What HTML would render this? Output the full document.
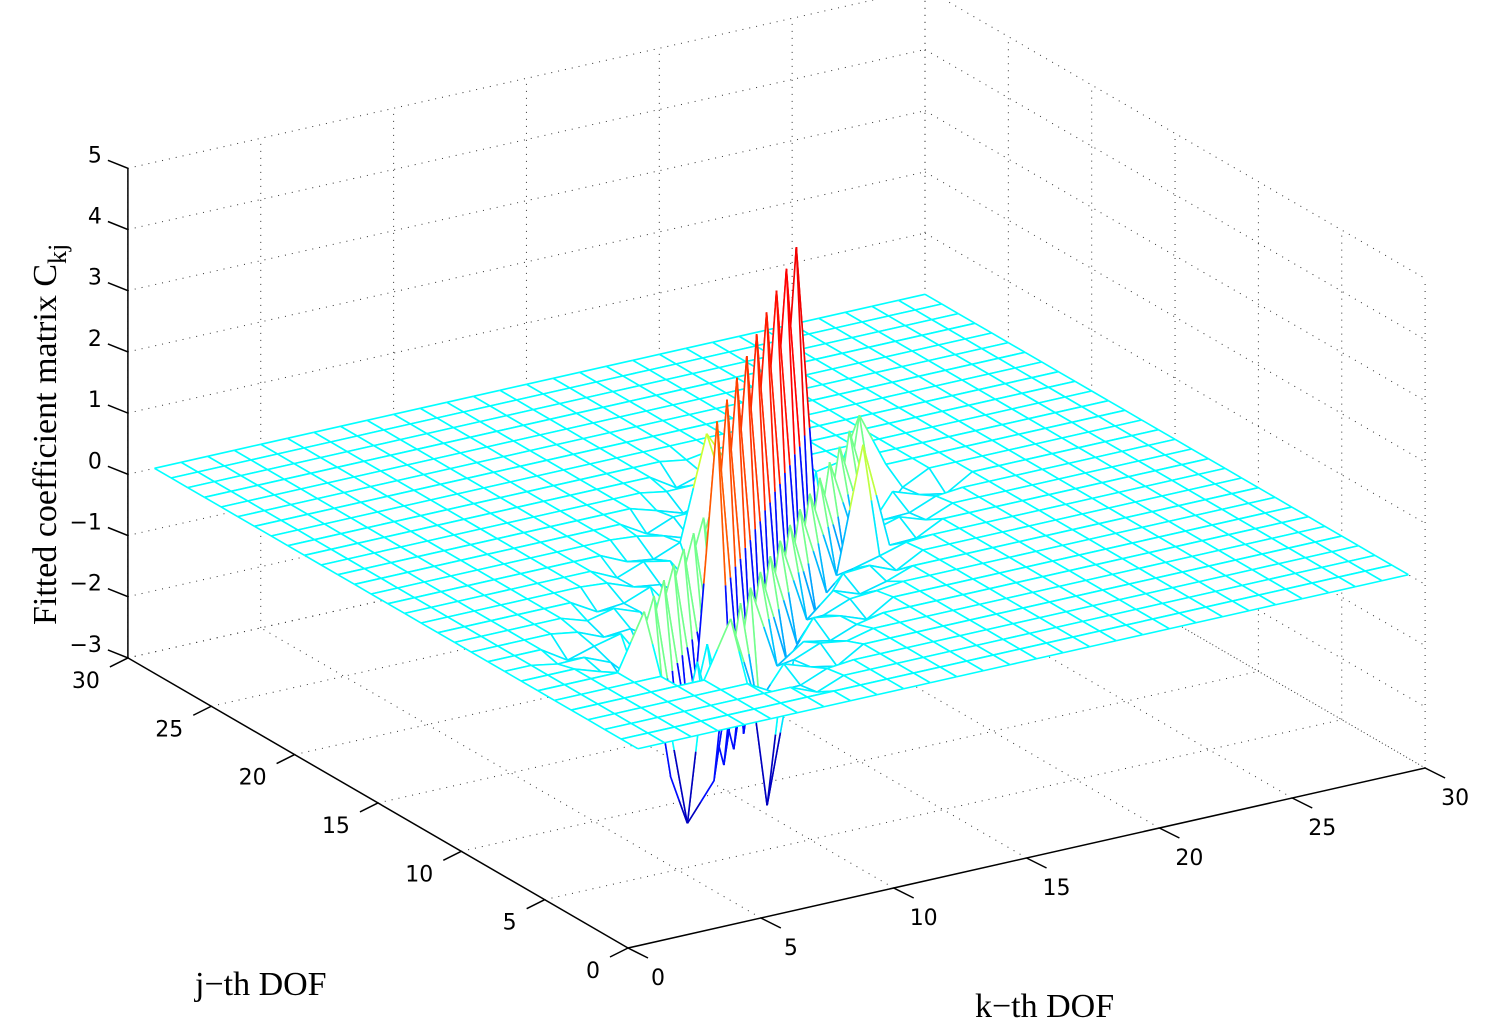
<!DOCTYPE html>
<html><head><meta charset="utf-8"><style>
html,body{margin:0;padding:0;background:#fff;}
svg{display:block;}
.t{font-family:"DejaVu Sans","Liberation Sans",sans-serif;font-size:22px;fill:#000;}
.s{font-family:"Liberation Serif",serif;font-size:34px;fill:#000;}
</style></head><body>
<svg id="c" width="1487" height="1030" xmlns="http://www.w3.org/2000/svg">
<text class="s" x="195" y="995">j−th DOF</text>
<text class="s" x="975" y="1017">k−th DOF</text>
<text class="s" transform="translate(56,625) rotate(-90)">Fitted coefficient matrix C<tspan dy="10" font-size="26">kj</tspan></text>
</svg>
<script>
var svg=document.getElementById('c');var NS='http://www.w3.org/2000/svg';
var A=[628,948],dk=[26.57,-6],dj=[-16.67,-9.67],zs=61.2;
function P(k,j,z){return [A[0]+k*dk[0]+j*dj[0],A[1]+k*dk[1]+j*dj[1]-(z+3)*zs];}
function el(n,a,parent){var e=document.createElementNS(NS,n);for(var x in a)e.setAttribute(x,a[x]);(parent||svg).appendChild(e);return e;}
var g=el('g',{});
function line(p,q,st,par){return el('line',{x1:p[0],y1:p[1],x2:q[0],y2:q[1],stroke:st.c||'#000','stroke-width':st.w||1,'stroke-dasharray':st.d||'none'},par||g);}
var dot={c:'#333',w:1,d:'1,6'};
for(var z=-3;z<=5;z++){line(P(0,30,z),P(30,30,z),dot);line(P(30,30,z),P(30,0,z),dot);}
for(var t=0;t<=30;t+=5){
 line(P(t,30,-3),P(t,30,5),dot);line(P(30,t,-3),P(30,t,5),dot);
 line(P(t,0,-3),P(t,30,-3),dot);line(P(0,t,-3),P(30,t,-3),dot);}
var ax={c:'#000',w:1.5};
line(P(0,30,-3),P(0,30,5),ax);line(P(0,0,-3),P(0,30,-3),ax);line(P(0,0,-3),P(30,0,-3),ax);
for(var z=-3;z<=5;z++){var p=P(0,30,z);line(p,[p[0]-20,p[1]-8],ax);
 var tx=el('text',{x:p[0]-26,y:p[1]-6,'text-anchor':'end','class':'t'},g);tx.textContent=(z<0?'−'+(-z):z);}
for(var t=0;t<=30;t+=5){var p=P(0,t,-3);line(p,[p[0]-18,p[1]+9],ax);
 var tx=el('text',{x:p[0]-28,y:p[1]+30,'text-anchor':'end','class':'t'},g);tx.textContent=t;
 var q=P(t,0,-3);line(q,[q[0]+20,q[1]+10],ax);
 var ty=el('text',{x:q[0]+30,y:q[1]+37,'text-anchor':'middle','class':'t'},g);ty.textContent=t;}
function Z(k,j){var d=k-j,z=0;
 var c=(k+j)/2;
 if(c>=6&&c<=19){
  var r=0.12*Math.sin(k*1.7+j*2.3);
  if(d==0&&k>=9&&k<=17) z=3.3+0.1*(k-9);
  else if(Math.abs(d)==1) z=-1.9;
  else if(Math.abs(d)==2) z=0.9;
  else if(Math.abs(d)==3) z=-0.6+r;
  else if(Math.abs(d)<=6) z=r-0.15;}
 if(k==6&&j==6) z=-2.5; if(k==9&&j==6)z=-2.5;
 if(k==13&&j==16)z=1.6;if(k==17&&j==13)z=1.5;
 return z;}
function jet(z){var t=(z+3)/8;function c(v){return Math.round(255*Math.max(0,Math.min(1,v)));}
 return 'rgb('+c(1.5-Math.abs(4*t-3))+','+c(1.5-Math.abs(4*t-2))+','+c(1.5-Math.abs(4*t-1))+')';}
var faces=[];for(var k=1;k<30;k++)for(var j=1;j<30;j++)faces.push([k,j]);
faces.sort(function(a,b){return (b[0]+b[1])-(a[0]+a[1]);});
var sg=el('g',{},svg);
faces.forEach(function(f){var k=f[0],j=f[1];
 var v=[[k,j],[k+1,j],[k+1,j+1],[k,j+1]].map(function(q){var z=Z(q[0],q[1]);return {p:P(q[0],q[1],z),z:z};});
 el('polygon',{points:v.map(function(o){return o.p.join(',');}).join(' '),fill:'#fff',stroke:'none'},sg);
 for(var i=0;i<4;i++){var a=v[i],b=v[(i+1)%4];
  if(Math.abs(a.z-b.z)<0.3){line(a.p,b.p,{c:jet((a.z+b.z)/2),w:1.6},sg);}
  else{var m=[(a.p[0]+b.p[0])/2,(a.p[1]+b.p[1])/2];
   line(a.p,m,{c:jet(a.z),w:1.6},sg);line(m,b.p,{c:jet(b.z),w:1.6},sg);}}
});
var labs=svg.querySelectorAll('text.s');labs.forEach(function(l){svg.appendChild(l);});
</script>
</body></html>
